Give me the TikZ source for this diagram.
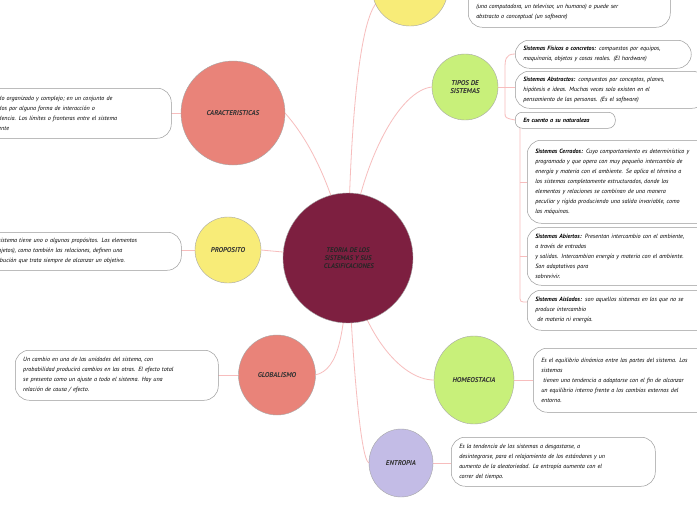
\documentclass[tikz,border=0pt]{standalone}
\usepackage{fontspec}
\setmainfont{PT Sans}
\usetikzlibrary{shapes.geometric}
\definecolor{lnk}{HTML}{F7BDBD}
\definecolor{maroon}{HTML}{7D1F40}
\definecolor{salmon}{HTML}{E98379}
\definecolor{yel}{HTML}{F8EC78}
\definecolor{grn}{HTML}{C8F07A}
\definecolor{lav}{HTML}{C3BCE6}
\tikzset{
 topic/.style={ellipse,draw=gray!70,line width=0.4pt,inner sep=0pt,font=\fontsize{7}{8}\selectfont\itshape\bfseries,text=black!80,align=center},
 txt/.style={draw=gray!80,line width=0.5pt,rounded corners=14pt,anchor=north west,align=left,font=\fontsize{6.1}{10}\selectfont\itshape,inner xsep=8pt,inner ysep=4pt,fill=white},
 lk/.style={draw=lnk,line width=0.8pt},
}
\begin{document}
\begin{tikzpicture}[x=1pt,y=-1pt]
\useasboundingbox (0,0) rectangle (697,520);
\clip (0,0) rectangle (697,520);
\fill[white] (0,0) rectangle (697,520);
% links
\coordinate (c) at (348,258);
\draw[lk] (c) .. controls (350,120) and (360,10) .. (380,0);
\draw[lk] (c) .. controls (360,160) and (400,90) .. (432,87);
\draw[lk] (c) .. controls (330,170) and (300,130) .. (285,113);
\draw[lk] (c) -- (261,250);
\draw[lk] (c) .. controls (345,330) and (340,370) .. (315,375);
\draw[lk] (c) .. controls (360,330) and (400,380) .. (434,380);
\draw[lk] (c) .. controls (352,350) and (360,460) .. (369,463);
% boxes links
\draw[lk] (160,113) -- (181,113);
\draw[lk] (178,250) -- (195,250);
\draw[lk] (218,375) -- (239,375);
\draw[lk] (514,380) -- (533,380);
\draw[lk] (433,463) -- (451,463);
\draw[lk] (498,87) -- (505,87);
\draw[lk] (515,54) .. controls (505,54) and (505,60) .. (505,70) -- (505,112) .. controls (505,118) .. (515,120);
\draw[lk] (505,87) -- (515,87);
\draw[lk] (520,128) -- (520,295) .. controls (520,302) .. (527,302);
\draw[lk] (520,182) -- (527,182);
\draw[lk] (520,256) -- (527,256);
% central
\node[topic,fill=maroon,minimum width=130pt,minimum height=130pt,text=black!85,font=\fontsize{6.8}{8}\selectfont\itshape\bfseries] (central) at (348,258) {TEORIA DE LOS\\SISTEMAS Y SUS\\\ CLASIFICACIONES};
% topics
\node[topic,fill=yel,minimum width=76pt,minimum height=76pt] (top) at (410,-12) {};
\node[topic,fill=grn,minimum width=66pt,minimum height=66pt] (tipos) at (465,87) {TIPOS DE\\SISTEMAS};
\node[topic,fill=salmon,minimum width=104pt,minimum height=104pt] (carac) at (233,113) {CARACTERISTICAS};
\node[topic,fill=yel,minimum width=66pt,minimum height=66pt] (prop) at (228,250) {PROPOSITO};
\node[topic,fill=salmon,minimum width=77pt,minimum height=80pt] (glob) at (277,375) {GLOBALISMO};
\node[topic,fill=grn,minimum width=80pt,minimum height=88pt] (homeo) at (474,380) {HOMEOSTACIA};
\node[topic,fill=lav,minimum width=64pt,minimum height=68pt] (entro) at (401,463) {ENTROPIA};
% text boxes
\node[txt,text width=186pt,minimum height=47pt] (ttop) at (468,-20) {\mbox{}\\ \mbox{}\\(una computadora, un televisor, un humano) o puede ser\\abstracto o conceptual (un software)};
\node[txt,text width=160pt,minimum height=28pt,inner ysep=2pt] (b1) at (515,40) {\textbf{Sistemas Físicos o concretos:} compuestos por equipos,\\maquinaria, objetos y cosas reales. (El hardware)};
\node[txt,text width=175pt,minimum height=37pt,inner ysep=2pt] (b2) at (515,71) {\textbf{Sistemas Abstractos:} compuestos por conceptos, planes,\\hipótesis e ideas. Muchas veces solo existen en el\\pensamiento de las personas. (Es el software)};
\node[txt,text width=84pt,minimum height=16pt,inner ysep=1pt,rounded corners=7pt] (b3) at (515,112) {\textbf{En cuento a su naturaleza}};
\node[txt,text width=190pt,minimum height=83pt] (b4) at (527,140) {\textbf{Sistemas Cerrados:} Cuyo comportamiento es determinístico y\\programado y que opera con muy pequeño intercambio de\\energía y materia con el ambiente. Se aplica el término a\\los sistemas completamente estructurados, donde los\\elementos y relaciones se combinan de una manera\\peculiar y rígida produciendo una salida invariable, como\\las máquinas.};
\node[txt,text width=190pt,minimum height=58pt] (b5) at (527,227) {\textbf{Sistemas Abiertos:} Presentan intercambio con el ambiente,\\a través de entradas\\y salidas. Intercambian energía y materia con el ambiente.\\Son adaptativos para\\sobrevivir.};
\node[txt,text width=190pt,minimum height=40pt] (b6) at (527,290) {\textbf{Sistemas Aislados:} son aquellos sistemas en los que no se\\produce intercambio\\\ de materia ni energía.};
\node[txt,text width=175pt,minimum height=50pt,inner ysep=3pt] (tcar) at (-20,88) {\ \ \ \ \ do organizado y complejo; en un conjunto de\\\ \ \ \ \ dos por alguna forma de interacción o\\\ \ \ \ \ dencia. Los límites o fronteras entre el sistema\\\ \ \ \ \ ente};
\node[txt,text width=185pt,minimum height=38pt,inner ysep=3pt] (tprop) at (-20,232) {\ \ \ \ \ sistema tiene uno o algunos propósitos. Los elementos\\\ \ \ \ \ ojetos), como también las relaciones, definen una\\\ \ \ \ \ ibución que trata siempre de alcanzar un objetivo.};
\node[txt,text width=187pt,minimum height=50pt,inner ysep=3pt] (tglob) at (15,350) {Un cambio en una de las unidades del sistema, con\\probabilidad producirá cambios en las otras. El efecto total\\se presenta como un ajuste a todo el sistema. Hay una\\relación de causa / efecto.};
\node[txt,text width=190pt,minimum height=64pt,inner ysep=3pt] (thom) at (533,348) {Es el equilibrio dinámico entre las partes del sistema. Los\\sistemas\\\ tienen una tendencia a adaptarse con el fin de alcanzar\\un equilibrio interno frente a los cambios externos del\\entorno.};
\node[txt,text width=188pt,minimum height=49pt,inner ysep=3pt] (tent) at (451,437) {Es la tendencia de los sistemas a desgastarse, a\\desintegrarse, para el relajamiento de los estándares y un\\aumento de la aleatoriedad. La entropía aumenta con el\\correr del tiempo.};
\end{tikzpicture}
\end{document}
